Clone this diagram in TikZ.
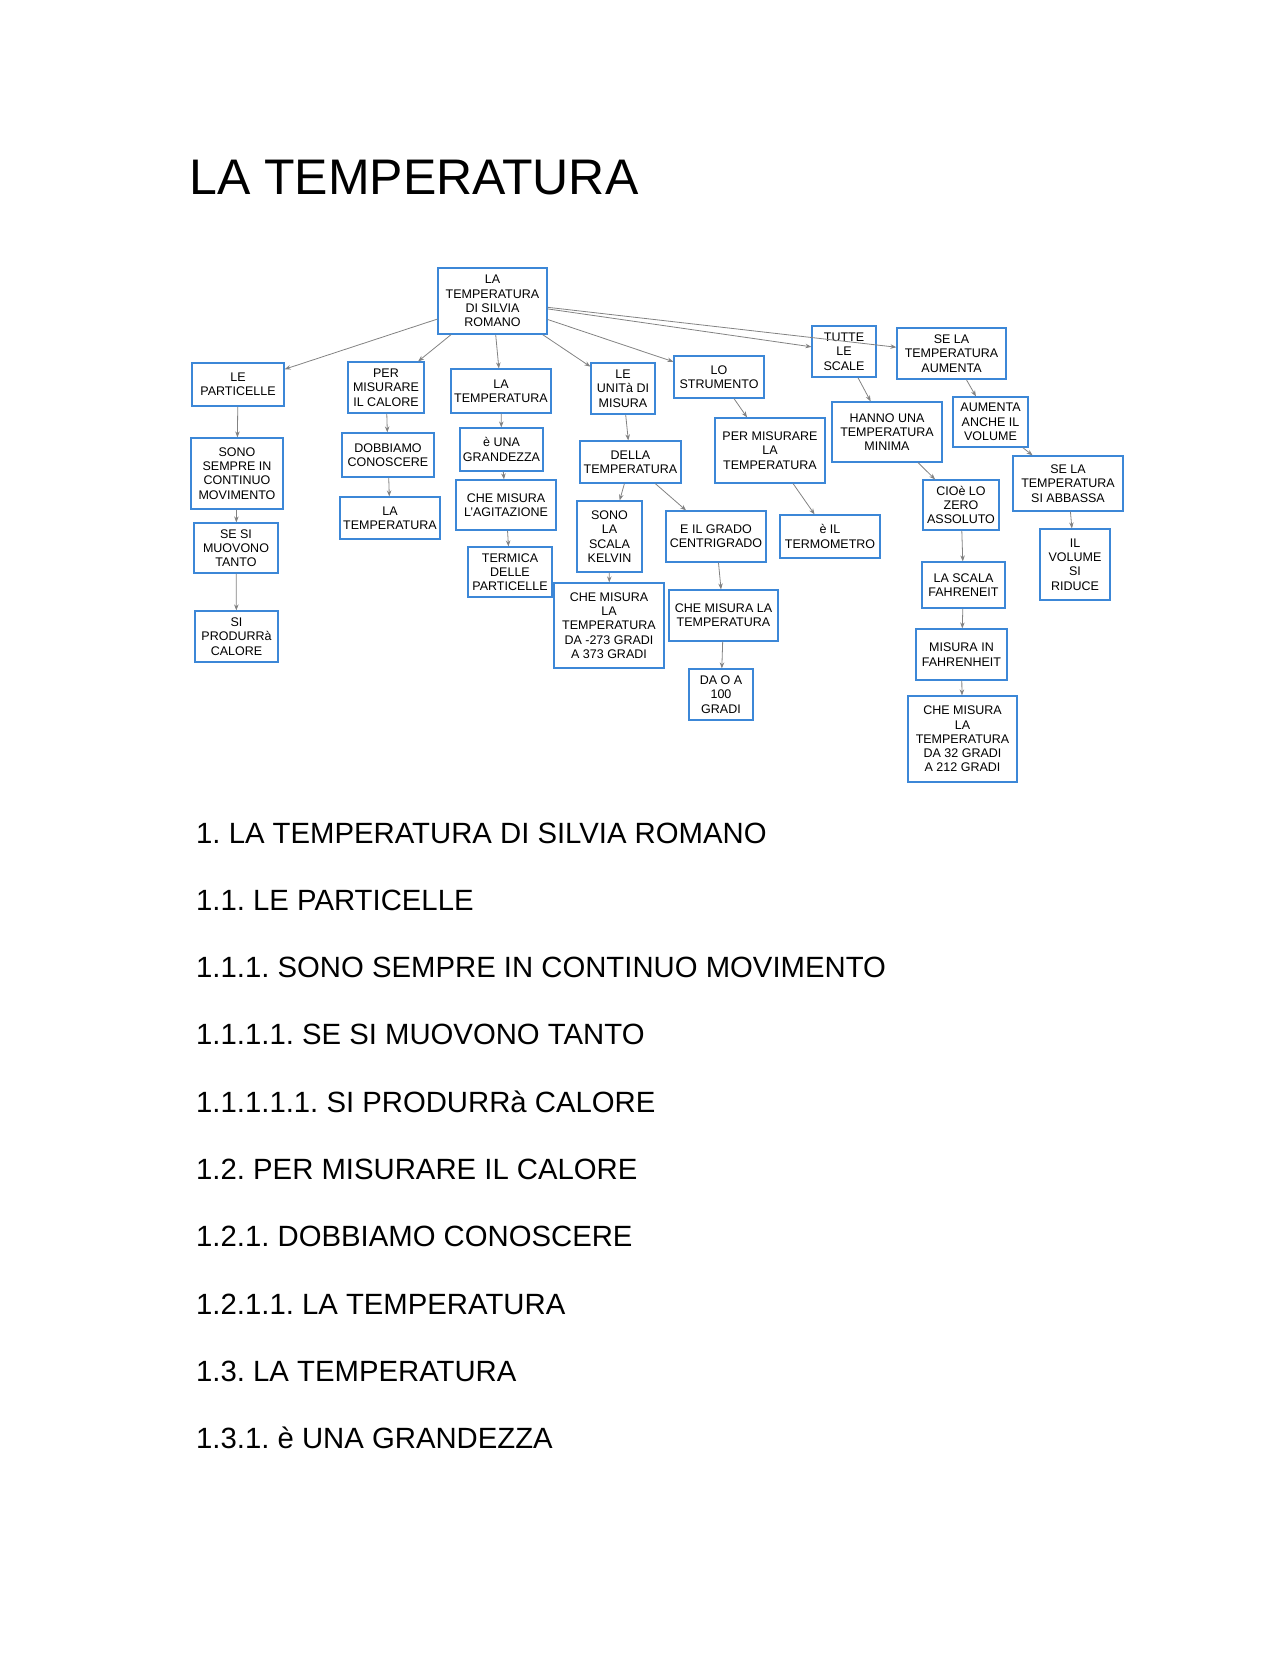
\documentclass[tikz,border=0pt]{standalone}
\usepackage{fontspec}
\setmainfont{Liberation Sans}
\usetikzlibrary{arrows.meta}
\frenchspacing
\definecolor{boxblue}{RGB}{60,135,215}
\definecolor{linegray}{RGB}{130,130,130}
\tikzset{
  box/.style={draw=boxblue, line width=1.2pt, fill=white, inner sep=0pt, align=center,
    font=\fontsize{12.5}{14.3}\selectfont},
  conn/.style={draw=linegray, line width=0.8pt, -{Stealth[length=6pt,width=4.5pt]}},
  outl/.style={anchor=base west, inner sep=0pt, font=\fontsize{29.3}{34}\selectfont},
  titl/.style={anchor=base west, inner sep=0pt, font=\fontsize{50}{58}\selectfont}
}
\newcommand{\bx}[6]{\node[box, minimum width=#4pt, minimum height=#5pt] (#1) at (#2,#3) {#6};}
\begin{document}
\begin{tikzpicture}[x=1pt,y=-1pt]
\useasboundingbox (0,0) rectangle (1280,1656);
\node[titl] (title) at (189,195) {LA TEMPERATURA};

\bx{root}{492.5}{301}{109}{66}{LA\\TEMPERATURA\\DI SILVIA\\ROMANO}
\bx{p1}{238}{384.5}{92}{43}{LE\\PARTICELLE}
\bx{p11}{237}{473.5}{92}{71}{SONO\\SEMPRE IN\\CONTINUO\\MOVIMENTO}
\bx{p111}{236}{548}{84}{50}{SE SI\\MUOVONO\\TANTO}
\bx{p1111}{236.5}{636.5}{83}{51}{SI\\PRODURRà\\CALORE}
\bx{p2}{386}{387.5}{76}{51}{PER\\MISURARE\\IL CALORE}
\bx{p21}{388}{455}{92}{44}{DOBBIAMO\\CONOSCERE}
\bx{p211}{390}{518}{100}{42}{LA\\TEMPERATURA}
\bx{p3}{501}{391}{100}{44}{LA\\TEMPERATURA}
\bx{p31}{501.5}{449.5}{83}{43}{è UNA\\GRANDEZZA}
\bx{p311}{506}{505}{100}{50}{CHE MISURA\\L'AGITAZIONE}
\bx{p3111}{510}{572}{84}{50}{TERMICA\\DELLE\\PARTICELLE}
\bx{p4}{623}{388.5}{64}{51}{LE\\UNITà DI\\MISURA}
\bx{p41}{630.5}{462}{101}{42}{DELLA\\TEMPERATURA}
\bx{p411}{609.5}{536.5}{65}{71}{SONO\\LA\\SCALA\\KELVIN}
\bx{p4111}{609}{625.5}{110}{85}{CHE MISURA\\LA\\TEMPERATURA\\DA -273 GRADI\\A 373 GRADI}
\bx{p412}{716}{536.5}{100}{51}{E IL GRADO\\CENTRIGRADO}
\bx{p4121}{723.5}{615.5}{109}{51}{CHE MISURA LA\\TEMPERATURA}
\bx{p41211}{721}{694.5}{64}{51}{DA O A\\100\\GRADI}
\bx{p5}{719}{377}{90}{42}{LO\\STRUMENTO}
\bx{p51}{770}{450.5}{110}{65}{PER MISURARE\\LA\\TEMPERATURA}
\bx{p511}{830}{536.5}{100}{43}{è IL\\TERMOMETRO}
\bx{p6}{844}{351.5}{64}{51}{TUTTE\\LE\\SCALE}
\bx{p61}{887}{432}{110}{60}{HANNO UNA\\TEMPERATURA\\MINIMA}
\bx{p611}{961}{505}{76}{50}{CIOè LO\\ZERO\\ASSOLUTO}
\bx{p6111}{963.5}{585}{83}{46}{LA SCALA\\FAHRENEIT}
\bx{p61111}{961.5}{654.5}{91}{51}{MISURA IN\\FAHRENHEIT}
\bx{p611111}{962.5}{739}{109}{86}{CHE MISURA\\LA\\TEMPERATURA\\DA 32 GRADI\\A 212 GRADI}
\bx{p7}{951.5}{353.5}{109}{51}{SE LA\\TEMPERATURA\\AUMENTA}
\bx{p71}{990.5}{422}{75}{50}{AUMENTA\\ANCHE IL\\VOLUME}
\bx{p711}{1068}{483.5}{110}{55}{SE LA\\TEMPERATURA\\SI ABBASSA}
\bx{p7111}{1075}{564.5}{70}{71}{IL\\VOLUME\\SI\\RIDUCE}

\draw[conn] (root) -- (p1);
\draw[conn] (root) -- (p2);
\draw[conn] (root) -- (p3);
\draw[conn] (root) -- (p4);
\draw[conn] (root) -- (p5);
\draw[conn] (root) -- (p6);
\draw[conn] (root) -- (p7);
\draw[conn] (p1) -- (p11);
\draw[conn] (p11) -- (p111);
\draw[conn] (p111) -- (p1111);
\draw[conn] (p2) -- (p21);
\draw[conn] (p21) -- (p211);
\draw[conn] (p3) -- (p31);
\draw[conn] (p31) -- (p311);
\draw[conn] (p311) -- (p3111);
\draw[conn] (p4) -- (p41);
\draw[conn] (p41) -- (p411);
\draw[conn] (p41) -- (p412);
\draw[conn] (p411) -- (p4111);
\draw[conn] (p412) -- (p4121);
\draw[conn] (p4121) -- (p41211);
\draw[conn] (p5) -- (p51);
\draw[conn] (p51) -- (p511);
\draw[conn] (p6) -- (p61);
\draw[conn] (p61) -- (p611);
\draw[conn] (p611) -- (p6111);
\draw[conn] (p6111) -- (p61111);
\draw[conn] (p61111) -- (p611111);
\draw[conn] (p7) -- (p71);
\draw[conn] (p71) -- (p711);
\draw[conn] (p711) -- (p7111);

\node[outl] (o1) at (196,843) {1. LA TEMPERATURA DI SILVIA ROMANO};
\node[outl] (o2) at (196,910.3) {1.1. LE PARTICELLE};
\node[outl] (o3) at (196,977.6) {1.1.1. SONO SEMPRE IN CONTINUO MOVIMENTO};
\node[outl] (o4) at (196,1044.9) {1.1.1.1. SE SI MUOVONO TANTO};
\node[outl] (o5) at (196,1112.2) {1.1.1.1.1. SI PRODURRà CALORE};
\node[outl] (o6) at (196,1179.5) {1.2. PER MISURARE IL CALORE};
\node[outl] (o7) at (196,1246.8) {1.2.1. DOBBIAMO CONOSCERE};
\node[outl] (o8) at (196,1314.1) {1.2.1.1. LA TEMPERATURA};
\node[outl] (o9) at (196,1381.4) {1.3. LA TEMPERATURA};
\node[outl] (o10) at (196,1448.7) {1.3.1. è UNA GRANDEZZA};
\end{tikzpicture}
\end{document}
